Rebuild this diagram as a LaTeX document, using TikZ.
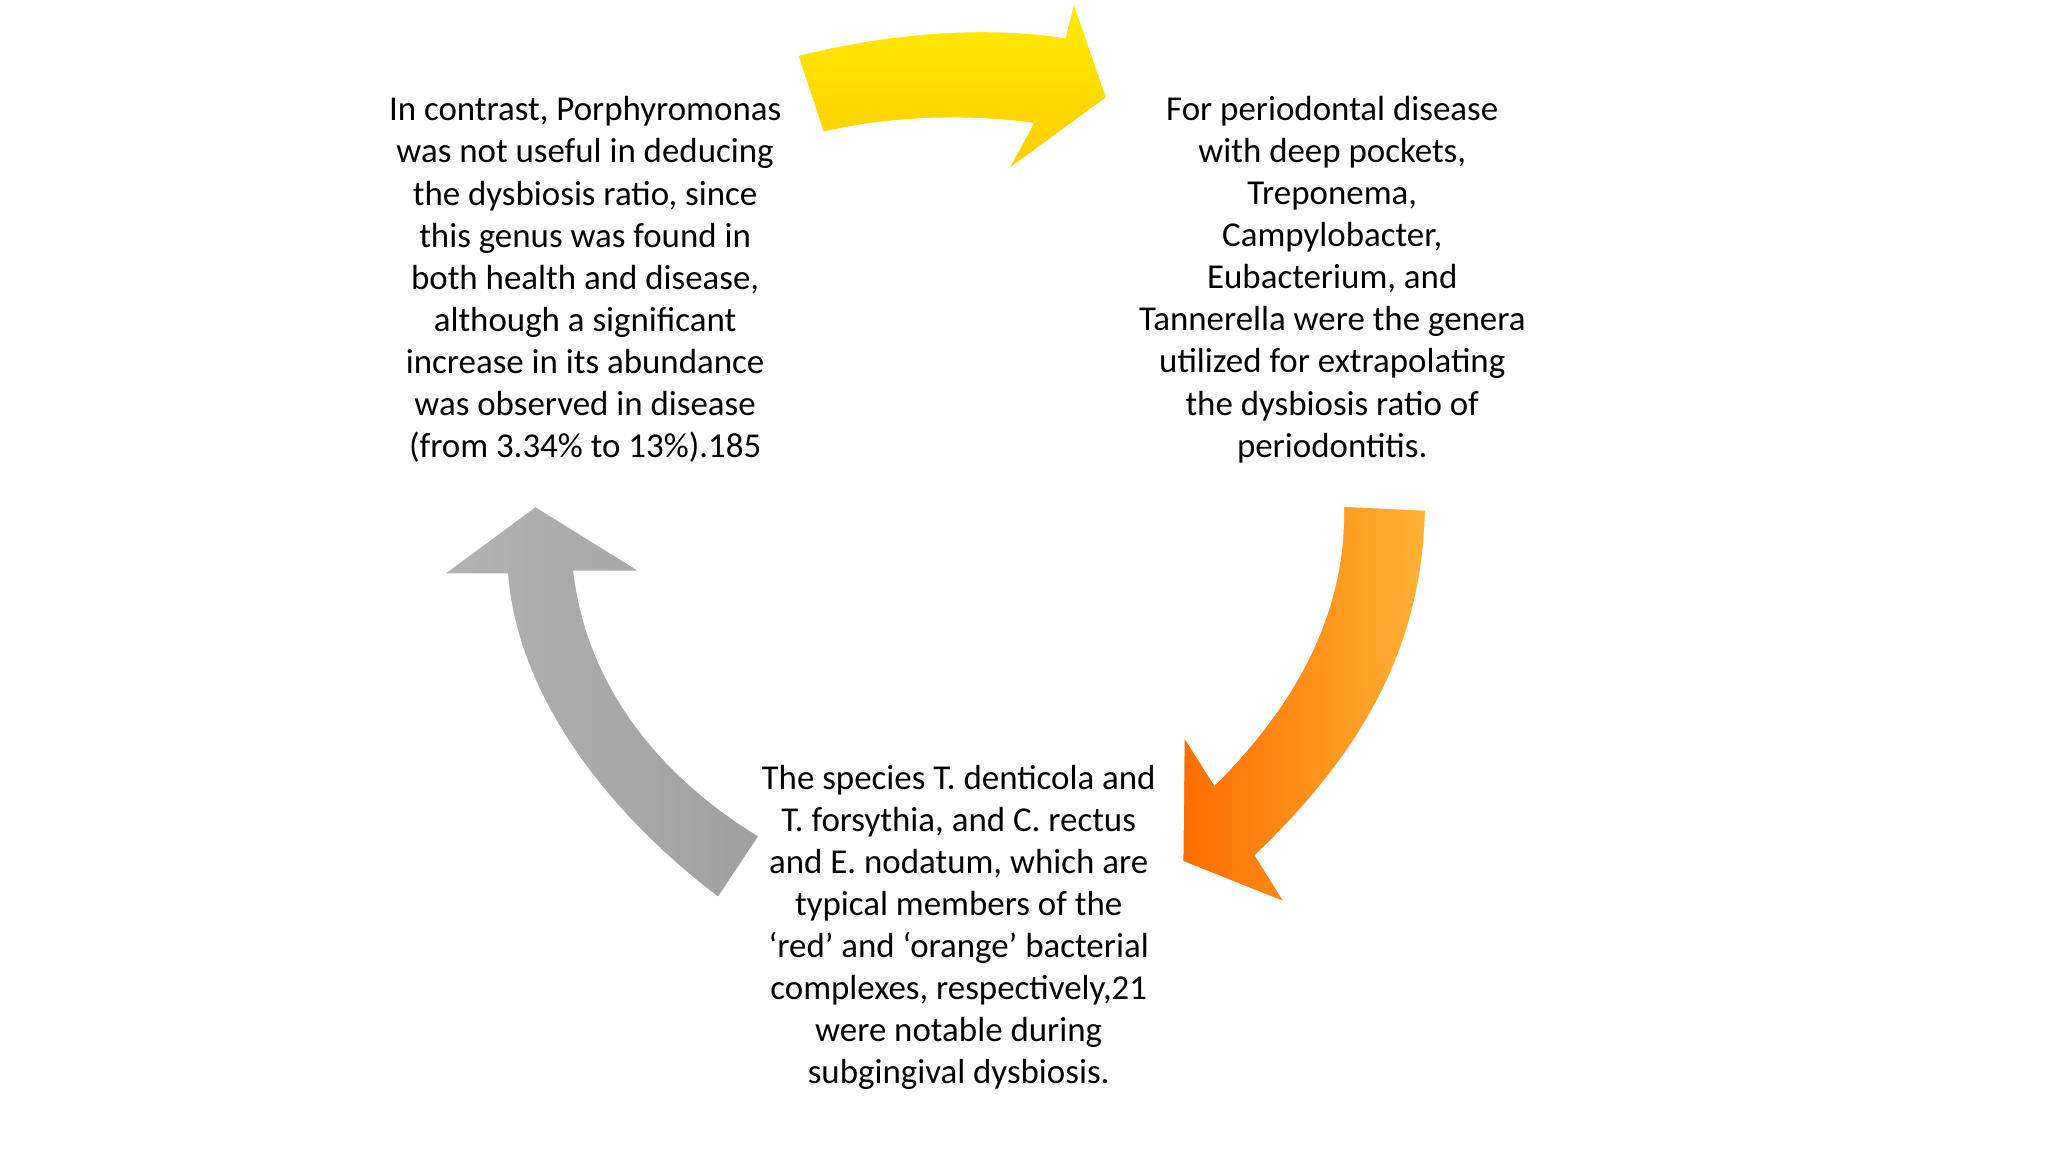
\documentclass[tikz,border=0pt]{standalone}
\usepackage{fontspec}
\setmainfont{Carlito}
\begin{document}
\begin{tikzpicture}[x=0.01cm,y=-0.01cm,
  txt/.style={align=center,inner sep=0pt,font=\fontsize{7.6}{9.16}\selectfont},
  arr/.style={draw=white,line width=0.6pt}]
\useasboundingbox[fill=white] (0,0) rectangle (1568,882);
% yellow
\path[arr,top color=yellow!85!orange,bottom color=orange!40!yellow]
 (610,42) .. controls (690,22) and (760,20) .. (815,28) -- (822,0) -- (848,75) -- (770,132) -- (790,95) .. controls (740,88) and (680,90) .. (630,102) -- cycle;
% orange
\path[arr,left color=orange!85!red,right color=orange!75!yellow!80!white]
 (1028,387) -- (1092,390) .. controls (1090,500) and (1040,580) .. (962,655) -- (985,692) -- (905,660) -- (906,562) -- (930,600) .. controls (990,540) and (1030,470) .. (1028,387) -- cycle;
% gray
\path[arr,left color=gray!60,right color=gray!75]
 (550,688) .. controls (460,620) and (395,530) .. (388,440) -- (338,440) -- (410,387) -- (492,438) -- (440,438) .. controls (450,520) and (500,590) .. (582,640) -- cycle;
\node[txt] (l) at (448,214) {In contrast, Porphyromonas\\was not useful in deducing\\the dysbiosis ratio, since\\this genus was found in\\both health and disease,\\although a significant\\increase in its abundance\\was observed in disease\\(from 3.34\% to 13\%).185};
\node[txt] (r) at (1020,214) {For periodontal disease\\with deep pockets,\\Treponema,\\Campylobacter,\\Eubacterium, and\\Tannerella were the genera\\utilized for extrapolating\\the dysbiosis ratio of\\periodontitis.};
\node[txt] (b) at (734,710) {The species T. denticola and\\T. forsythia, and C. rectus\\and E. nodatum, which are\\typical members of the\\‘red’ and ‘orange’ bacterial\\complexes, respectively,21\\were notable during\\subgingival dysbiosis.};
\end{tikzpicture}
\end{document}
